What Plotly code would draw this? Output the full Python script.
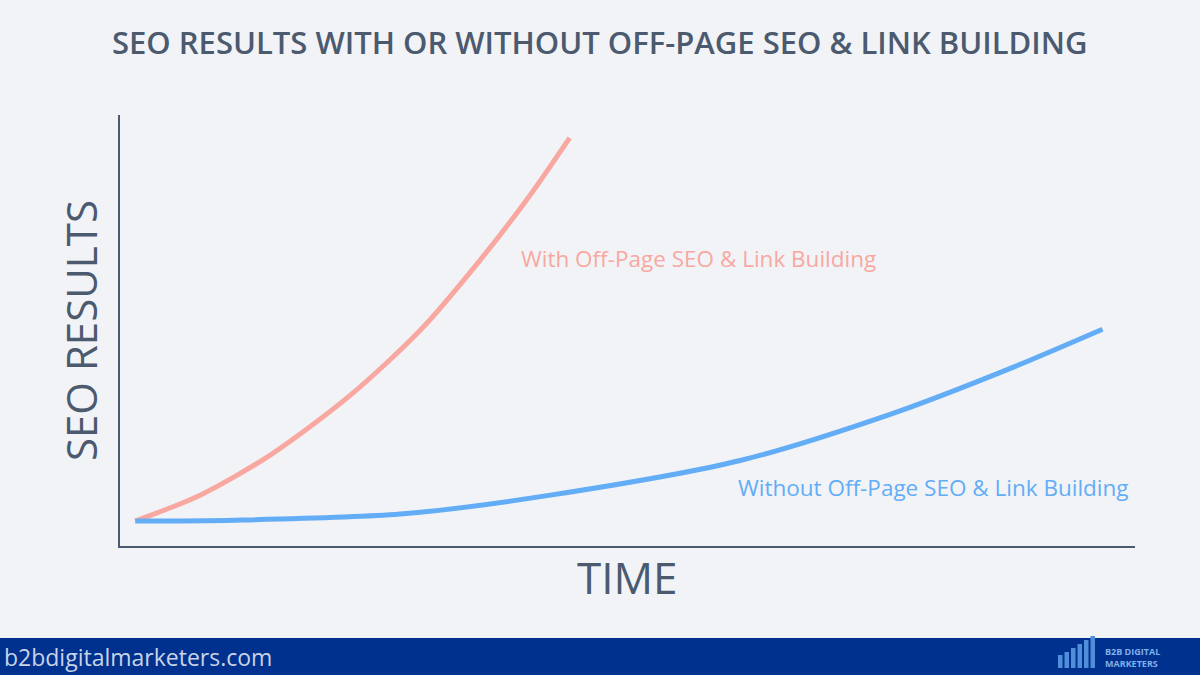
import plotly.graph_objects as go

# curve values (axis units 0-100)
with_x = [1.5, 7.9, 14.8, 22.7, 29.6, 35.5, 40.4, 44.3]
with_y = [5.8, 11.8, 21.1, 35.0, 50.1, 66.4, 81.4, 94.7]
without_x = [1.5, 11.3, 27.6, 42.4, 61.2, 76.3, 87.6, 96.8]
without_y = [5.8, 6.0, 7.4, 11.8, 19.9, 30.9, 41.1, 50.3]

W, H = 1200, 675
L, R, T, B = 120, 1135, 115, 546  # plot area in pixels
RED = "#f8a8a1"
BLUE = "#62adf6"
TXT = "#4b5a6e"
BG = "#f2f3f7"


def px(x):
    return (x - L) / (R - L)


def py(y):
    return (B - y) / (B - T)


fig = go.Figure()
fig.add_trace(go.Scatter(x=with_x, y=with_y, mode="lines",
                         line=dict(color=RED, width=5, shape="spline", smoothing=0.8), hoverinfo="skip"))
fig.add_trace(go.Scatter(x=without_x, y=without_y, mode="lines",
                         line=dict(color=BLUE, width=5, shape="spline", smoothing=0.8), hoverinfo="skip"))

ann = [
    dict(text="SEO RESULTS WITH OR WITHOUT OFF-PAGE SEO & LINK BUILDING", x=px(600), y=py(42),
         font=dict(size=31, color=TXT, family="Open Sans", weight=600)),
    dict(text="SEO RESULTS", x=px(80), y=py(331), textangle=-90,
         font=dict(size=42, color=TXT, family="Open Sans")),
    dict(text="TIME", x=px(627), y=py(577), font=dict(size=44, color=TXT, family="Open Sans")),
    dict(text="With Off-Page SEO & Link Building", x=px(519), y=py(258), xanchor="left",
         font=dict(size=22.5, color=RED, family="Open Sans")),
    dict(text="Without Off-Page SEO & Link Building", x=px(736), y=py(487), xanchor="left",
         font=dict(size=22.5, color=BLUE, family="Open Sans")),
    dict(text="b2bdigitalmarketers.com", x=px(2), y=py(657), xanchor="left",
         font=dict(size=23, color="#c9d3e6", family="Open Sans")),
    dict(text="<b>B2B DIGITAL<br>MARKETERS</b>", x=px(1103), y=py(657), xanchor="left", align="left",
         font=dict(size=9, color="#7fb0e8", family="Open Sans")),
]
for a in ann:
    a.update(xref="paper", yref="paper", showarrow=False)
    a.setdefault("xanchor", "center")
    a.setdefault("yanchor", "middle")

shapes = [dict(type="rect", xref="paper", yref="paper", x0=px(-10), x1=px(W + 10), y0=py(H + 10), y1=py(638),
               fillcolor="#00318f", line=dict(width=0), layer="below")]
# logo bars
bar_tops = [655, 652, 648, 644, 640, 636]
for i, t in enumerate(bar_tops):
    x0 = 1058 + i * 6.5
    shapes.append(dict(type="rect", xref="paper", yref="paper", x0=px(x0), x1=px(x0 + 4.5),
                       y0=py(668), y1=py(t), fillcolor="#4f8fd9", line=dict(width=0)))

fig.update_layout(
    width=W, height=H, paper_bgcolor=BG, plot_bgcolor=BG, showlegend=False,
    margin=dict(l=L, r=W - R, t=T, b=H - B),
    xaxis=dict(range=[0, 100], showgrid=False, zeroline=False, showticklabels=False,
               showline=True, linecolor=TXT, linewidth=2),
    yaxis=dict(range=[0, 100], showgrid=False, zeroline=False, showticklabels=False,
               showline=True, linecolor=TXT, linewidth=2),
    annotations=ann, shapes=shapes,
)
fig.write_html("out.html", config={"displayModeBar": False},
               post_script="document.body.style.margin='0';")
